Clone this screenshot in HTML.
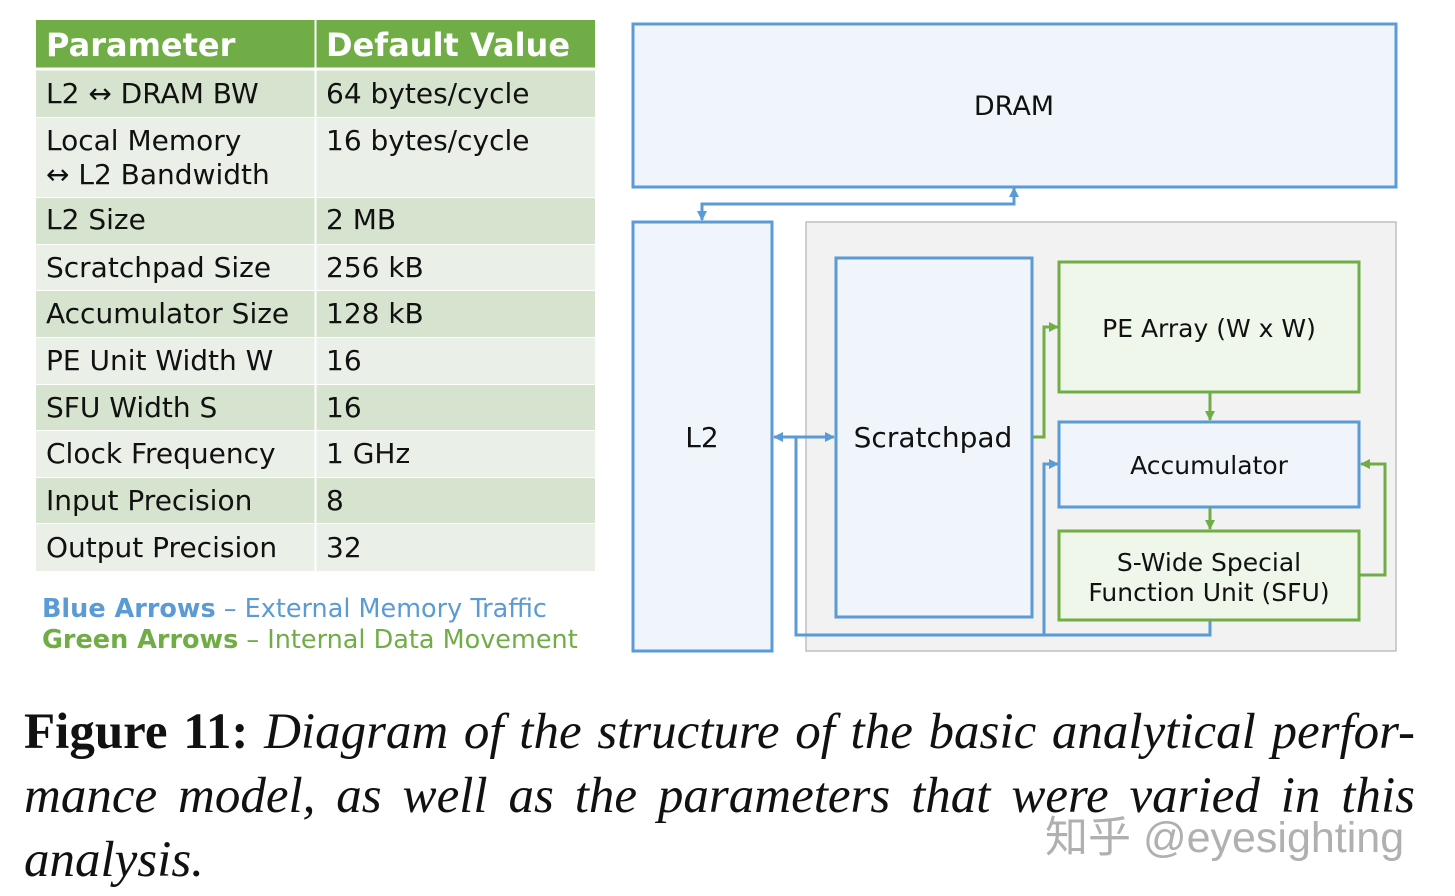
<!DOCTYPE html>
<html><head><meta charset="utf-8"><style>
body{margin:0;width:1455px;height:896px;background:#fff;position:relative;overflow:hidden;font-family:"DejaVu Sans","Liberation Sans",sans-serif}
.c{position:absolute;font-size:28px;color:#111;padding-left:10px;box-sizing:border-box;line-height:34px;white-space:nowrap}
.leg{position:absolute;left:42px;font-size:25.5px;white-space:nowrap}
.cap{position:absolute;left:24px;width:1391px;font-family:"Liberation Serif",serif;font-size:51px;font-style:italic;color:#111;white-space:nowrap;text-align:justify;text-align-last:justify}
</style></head><body>
<svg width="1455" height="896" style="position:absolute;left:0;top:0">
<defs>
<marker id="b" markerWidth="10" markerHeight="10" refX="9" refY="5" orient="auto-start-reverse" markerUnits="userSpaceOnUse" viewBox="0 0 10 10"><path d="M0,0L10,5L0,10z" fill="#5b9bd5"/></marker>
<marker id="g" markerWidth="10" markerHeight="10" refX="9" refY="5" orient="auto" markerUnits="userSpaceOnUse" viewBox="0 0 10 10"><path d="M0,0L10,5L0,10z" fill="#70ad47"/></marker>
</defs>
<rect x="36" y="20" width="559" height="49" fill="#70ad47"/>
<rect x="36" y="70" width="559" height="47" fill="#d5e3cf"/>
<rect x="36" y="118" width="559" height="79" fill="#eaf0e8"/>
<rect x="36" y="198" width="559" height="46" fill="#d5e3cf"/>
<rect x="36" y="245" width="559" height="45" fill="#eaf0e8"/>
<rect x="36" y="291" width="559" height="46" fill="#d5e3cf"/>
<rect x="36" y="338" width="559" height="46" fill="#eaf0e8"/>
<rect x="36" y="385" width="559" height="45" fill="#d5e3cf"/>
<rect x="36" y="431" width="559" height="46" fill="#eaf0e8"/>
<rect x="36" y="478" width="559" height="45" fill="#d5e3cf"/>
<rect x="36" y="524" width="559" height="47" fill="#eaf0e8"/>
<line x1="315.5" y1="20" x2="315.5" y2="571" stroke="#fff" stroke-width="2"/>
<line x1="36" y1="69" x2="595" y2="69" stroke="#fff" stroke-width="3"/>
<rect x="806" y="222" width="590" height="429" fill="#f2f2f2" stroke="#bfbfbf" stroke-width="1.5"/>
<rect x="633" y="24" width="763" height="163" fill="#eff5fb" stroke="#5b9bd5" stroke-width="3"/>
<rect x="633" y="222" width="139" height="429" fill="#eff5fb" stroke="#5b9bd5" stroke-width="3"/>
<rect x="836" y="258" width="196" height="359" fill="#eff5fb" stroke="#5b9bd5" stroke-width="3"/>
<rect x="1059" y="262" width="300" height="130" fill="#eff6ea" stroke="#70ad47" stroke-width="3"/>
<rect x="1059" y="422" width="300" height="85" fill="#eff5fb" stroke="#5b9bd5" stroke-width="3"/>
<rect x="1059" y="531" width="300" height="89" fill="#eff6ea" stroke="#70ad47" stroke-width="3"/>
<g fill="none" stroke="#5b9bd5" stroke-width="3">
<path d="M702,220V204H1014V188" marker-start="url(#b)" marker-end="url(#b)"/>
<path d="M774,437H834" marker-start="url(#b)" marker-end="url(#b)"/>
<path d="M796,437V635H1210V621"/>
<path d="M1044,635V464H1058" marker-end="url(#b)"/>
</g>
<g fill="none" stroke="#70ad47" stroke-width="3">
<path d="M1033,437H1044V327H1058" marker-end="url(#g)"/>
<path d="M1210,393V420" marker-end="url(#g)"/>
<path d="M1210,508V529" marker-end="url(#g)"/>
<path d="M1360,575H1385V464H1361" marker-end="url(#g)"/>
</g>
<g font-family="DejaVu Sans,Liberation Sans,sans-serif" fill="#111" text-anchor="middle">
<text x="1014" y="115" font-size="27">DRAM</text>
<text x="702" y="447" font-size="28">L2</text>
<text x="933" y="447" font-size="28">Scratchpad</text>
<text x="1209" y="337" font-size="25">PE Array (W x W)</text>
<text x="1209" y="474" font-size="25">Accumulator</text>
<text x="1209" y="571" font-size="25">S-Wide Special</text>
<text x="1209" y="601" font-size="25">Function Unit (SFU)</text>
</g>
</svg>
<div class="c" style="left:36px;top:28px;color:#fff;font-weight:bold;font-size:32px">Parameter</div>
<div class="c" style="left:316px;top:28px;color:#fff;font-weight:bold;font-size:32px">Default Value</div>
<div class="c" style="left:36px;top:77px">L2 ↔ DRAM BW</div><div class="c" style="left:316px;top:77px">64 bytes/cycle</div>
<div class="c" style="left:36px;top:124px">Local Memory<br>↔ L2 Bandwidth</div><div class="c" style="left:316px;top:124px">16 bytes/cycle</div>
<div class="c" style="left:36px;top:203px">L2 Size</div><div class="c" style="left:316px;top:203px">2 MB</div>
<div class="c" style="left:36px;top:251px">Scratchpad Size</div><div class="c" style="left:316px;top:251px">256 kB</div>
<div class="c" style="left:36px;top:297px">Accumulator Size</div><div class="c" style="left:316px;top:297px">128 kB</div>
<div class="c" style="left:36px;top:344px">PE Unit Width W</div><div class="c" style="left:316px;top:344px">16</div>
<div class="c" style="left:36px;top:391px">SFU Width S</div><div class="c" style="left:316px;top:391px">16</div>
<div class="c" style="left:36px;top:437px">Clock Frequency</div><div class="c" style="left:316px;top:437px">1 GHz</div>
<div class="c" style="left:36px;top:484px">Input Precision</div><div class="c" style="left:316px;top:484px">8</div>
<div class="c" style="left:36px;top:531px">Output Precision</div><div class="c" style="left:316px;top:531px">32</div>
<div class="leg" style="top:594px;color:#5b9bd5"><b>Blue Arrows</b> – External Memory Traffic</div>
<div class="leg" style="top:625px;color:#70ad47"><b>Green Arrows</b> – Internal Data Movement</div>
<div class="cap" style="top:703px"><b style="font-style:normal">Figure 11:</b> Diagram of the structure of the basic analytical perfor-</div>
<div class="cap" style="top:767px">mance model, as well as the parameters that were varied in this</div>
<div class="cap" style="top:831px;text-align-last:left">analysis.</div>
<div style="position:absolute;left:1045px;top:803px;font-size:43px;color:rgba(150,150,150,0.75);font-family:'Liberation Sans','Noto Sans CJK SC',sans-serif;white-space:nowrap">知乎 @eyesighting</div>
</body></html>
